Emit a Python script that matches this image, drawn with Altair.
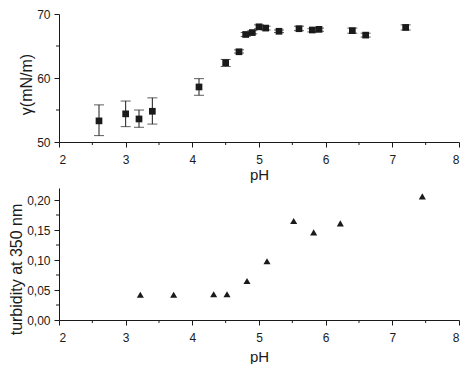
import altair as alt
import pandas as pd

# ---- data ----
ph_gamma = [2.6, 3.0, 3.2, 3.4, 4.1, 4.5, 4.7, 4.8, 4.9, 5.0, 5.1, 5.3, 5.6, 5.8, 5.9, 6.4, 6.6, 7.2]
gamma = [53.3, 54.4, 53.6, 54.8, 58.6, 62.4, 64.1, 66.8, 67.1, 68.0, 67.8, 67.3, 67.7, 67.5, 67.6, 67.4, 66.7, 67.9]
gamma_lo = [51.0, 52.4, 52.3, 52.8, 57.3, 61.8, 63.9, 66.5, 66.9, 67.7, 67.5, 67.1, 67.4, 67.2, 67.3, 67.0, 66.4, 67.5]
gamma_hi = [55.8, 56.4, 55.0, 56.9, 59.9, 62.9, 64.4, 67.1, 67.4, 68.3, 68.1, 67.5, 68.1, 67.7, 67.8, 67.8, 67.0, 68.3]

ph_turb = [3.22, 3.72, 4.32, 4.52, 4.82, 5.12, 5.52, 5.82, 6.22, 7.45]
turbidity = [0.042, 0.042, 0.043, 0.043, 0.065, 0.098, 0.165, 0.146, 0.161, 0.206]

x_ticks = [2, 3, 4, 5, 6, 7, 8]
x_minor = [2.5, 3.5, 4.5, 5.5, 6.5, 7.5]
gamma_ticks = [50, 60, 70]
gamma_minor = [55, 65]
turb_ticks = [0.0, 0.05, 0.10, 0.15, 0.20]
turb_minor = [0.025, 0.075, 0.125, 0.175]

W = 400
H1 = 128
H2 = 132
INK = "#1a1a1a"

df_g = pd.DataFrame({"pH": ph_gamma, "gamma": gamma, "lo": gamma_lo, "hi": gamma_hi})
df_t = pd.DataFrame({"pH": ph_turb, "turb": turbidity})
df_xm = pd.DataFrame({"pH": x_minor})
df_gm = pd.DataFrame({"v": gamma_minor})
df_tm = pd.DataFrame({"v": turb_minor})

xscale = alt.Scale(domain=[2, 8], nice=False, zero=False)
gscale = alt.Scale(domain=[50, 70], nice=False, zero=False)
tscale = alt.Scale(domain=[0, 0.22], nice=False)

X_TOP = alt.Axis(values=x_ticks, format="d", title="pH", labelPadding=7, titlePadding=2)
X_BOT = alt.Axis(values=x_ticks, format="d", title="pH", labelPadding=7, titlePadding=6)
Y_TOP = alt.Axis(values=gamma_ticks, title="γ(mN/m)", titleY=70)
Y_BOT = alt.Axis(values=turb_ticks, title="turbidity at 350 nm", titleY=81,
                 labelExpr="replace(format(datum.value, '.2f'), '.', ',')")

# ---- top panel ----
g_bars = alt.Chart(df_g).mark_rule(color=INK, strokeWidth=1).encode(
    x=alt.X("pH:Q", scale=xscale, axis=X_TOP),
    y=alt.Y("lo:Q", scale=gscale, axis=Y_TOP),
    y2="hi:Q",
)
g_cap_lo = alt.Chart(df_g).mark_tick(color=INK, orient="horizontal", size=10, thickness=1).encode(
    x=alt.X("pH:Q", scale=xscale, axis=X_TOP),
    y=alt.Y("lo:Q", scale=gscale, axis=Y_TOP),
)
g_cap_hi = alt.Chart(df_g).mark_tick(color=INK, orient="horizontal", size=10, thickness=1).encode(
    x=alt.X("pH:Q", scale=xscale, axis=X_TOP),
    y=alt.Y("hi:Q", scale=gscale, axis=Y_TOP),
)
g_pts = alt.Chart(df_g).mark_square(color=INK, size=45, opacity=1).encode(
    x=alt.X("pH:Q", scale=xscale, axis=X_TOP),
    y=alt.Y("gamma:Q", scale=gscale, axis=Y_TOP),
)
g_xminor = alt.Chart(df_xm).mark_rule(color=INK).encode(
    x=alt.X("pH:Q", scale=xscale, axis=X_TOP),
    y=alt.value(H1),
    y2=alt.value(H1 + 3),
)
g_yminor = alt.Chart(df_gm).mark_rule(color=INK).encode(
    y=alt.Y("v:Q", scale=gscale, axis=Y_TOP),
    x=alt.value(0),
    x2=alt.value(-3),
)
top = alt.layer(g_bars, g_cap_lo, g_cap_hi, g_pts, g_xminor, g_yminor).properties(width=W, height=H1)

# ---- bottom panel ----
t_pts = alt.Chart(df_t).mark_point(shape="triangle-up", filled=True, color=INK, size=50, opacity=1).encode(
    x=alt.X("pH:Q", scale=xscale, axis=X_BOT),
    y=alt.Y("turb:Q", scale=tscale, axis=Y_BOT),
)
t_xminor = alt.Chart(df_xm).mark_rule(color=INK).encode(
    x=alt.X("pH:Q", scale=xscale, axis=X_BOT),
    y=alt.value(H2),
    y2=alt.value(H2 + 3),
)
t_yminor = alt.Chart(df_tm).mark_rule(color=INK).encode(
    y=alt.Y("v:Q", scale=tscale, axis=Y_BOT),
    x=alt.value(0),
    x2=alt.value(-3),
)
bottom = alt.layer(t_pts, t_xminor, t_yminor).properties(width=W, height=H2)

chart = alt.vconcat(top, bottom, spacing=6).properties(
    padding=0
).configure_view(stroke=None).configure_axis(
    grid=False,
    domainColor=INK,
    tickColor=INK,
    tickSize=5,
    labelPadding=4,
    labelFont="Liberation Sans",
    labelFontSize=12,
    labelColor=INK,
    titleFont="Liberation Sans",
    titleFontSize=15,
    titleFontWeight="normal",
    titleColor=INK,
).configure_axisY(
    titleFontSize=16,
    titlePadding=2,
)

chart.save("out.html", embed_options={"renderer": "svg", "actions": False})
